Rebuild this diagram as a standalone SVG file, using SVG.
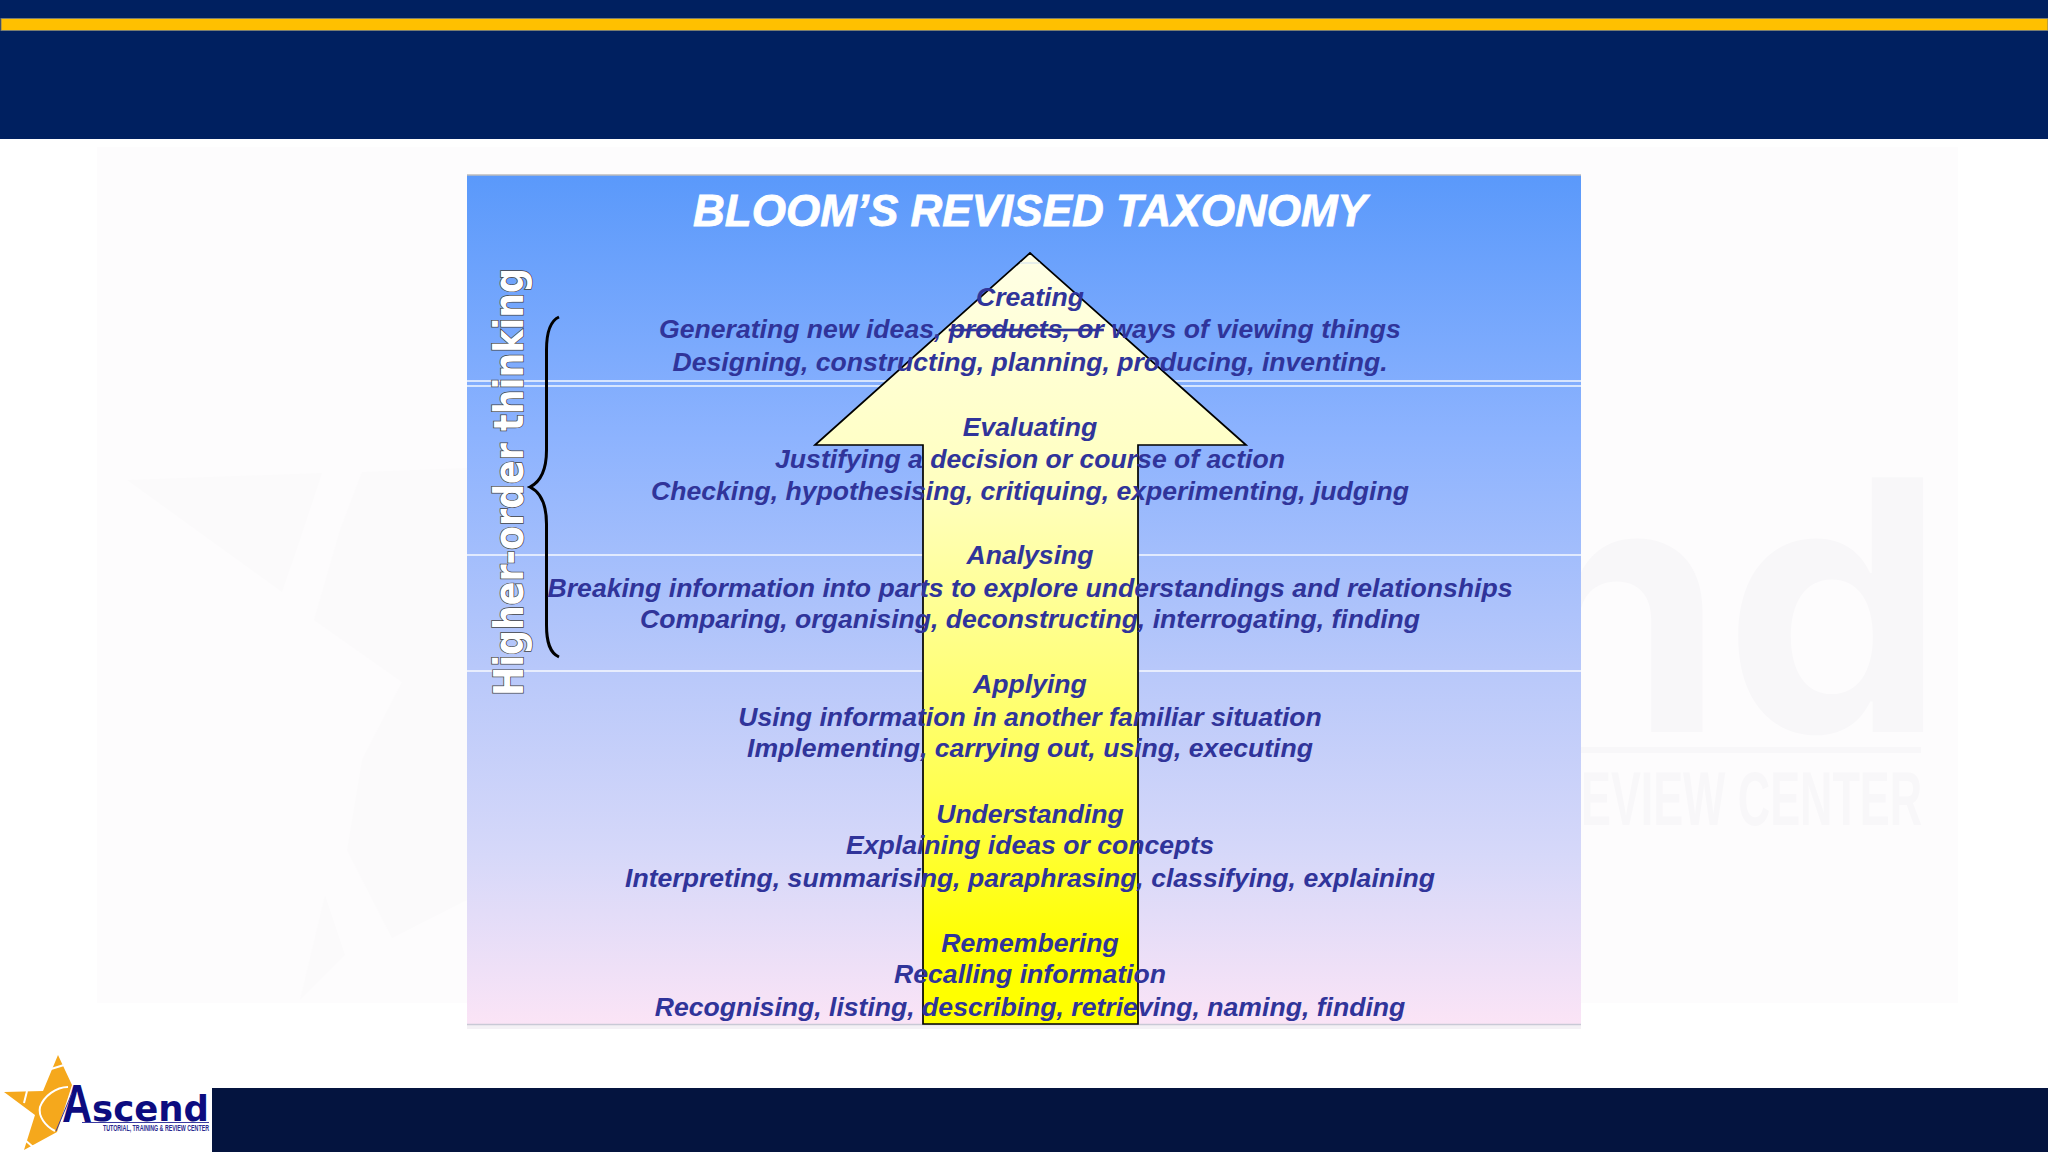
<svg xmlns="http://www.w3.org/2000/svg" width="2048" height="1152" viewBox="0 0 2048 1152">
<style>
.t{font-family:"Liberation Sans",Arial,sans-serif;font-weight:700;font-style:italic;font-size:26.600px;fill:#30349a;text-anchor:middle}
.wl{stroke:#fff;stroke-width:1.6;opacity:.9}
.wm{fill:#f8f7f9}
.ws{fill:#fbfafb}
</style>
<defs>
<linearGradient id="pg" x1="0" y1="0" x2="0" y2="1">
<stop offset="0" stop-color="#5a99fb"/>
<stop offset=".31" stop-color="#8db3fe"/>
<stop offset=".58" stop-color="#b8c8fa"/>
<stop offset=".8" stop-color="#d6d8f9"/>
<stop offset="1" stop-color="#fbe4f6"/>
</linearGradient>
<linearGradient id="ag" x1="0" y1="0" x2="0" y2="1">
<stop offset="0" stop-color="#ffffe6"/>
<stop offset=".3" stop-color="#ffffc0"/>
<stop offset=".7" stop-color="#ffff50"/>
<stop offset=".9" stop-color="#ffff00"/>
<stop offset="1" stop-color="#ffff00"/>
</linearGradient>
</defs>
<rect width="2048" height="1152" fill="#fff"/>
<g id="watermark">
<rect x="97" y="147" width="1861" height="856" fill="#fdfcfd"/>
<polygon class="ws" points="127,480 322,473 300,540 282,592"/>
<polygon class="ws" points="362,472 467,468 467,900 392,938 347,850 362,760 402,682 314,620 340,530"/>
<polygon class="ws" points="325,895 345,955 300,1000"/>
<text x="1945" y="732" text-anchor="end" font-family="Inter,sans-serif" font-weight="700" font-size="350" class="wm">nd</text>
<rect class="wm" x="1581" y="747" width="340" height="6"/>
<text x="1581" y="825" font-family="'Liberation Sans',sans-serif" font-weight="700" font-size="76" textLength="341" lengthAdjust="spacingAndGlyphs" class="wm">EVIEW CENTER</text>
</g>
<g id="header">
<rect width="2048" height="139" fill="#002060"/>
<rect x="1" y="18.500" width="2047" height="12" fill="#ffc000" stroke="#7a7d70" stroke-width="1"/>
</g>
<g id="footer">
<rect x="212" y="1088" width="1836" height="64" fill="#04143f"/>
</g>
<g id="logo">
<path d="M58,1055 L72,1085 L57,1132 L24,1150 L35,1115 L4,1092 L43,1091 Z" fill="#f5a81c"/>
<path d="M51,1069 L64,1065 M68,1087 C56,1087 44,1096 40,1107 C38,1116 45,1126 55,1131 M27,1091 L24,1103 M25,1140 L33,1147" fill="none" stroke="#fff" stroke-width="2"/>
<text x="62" y="1122" font-family="'Liberation Sans',sans-serif" font-weight="700" font-size="54" fill="#0c0c80" textLength="30" lengthAdjust="spacingAndGlyphs">A</text>
<text x="92" y="1121" font-family="'DejaVu Sans',sans-serif" font-weight="700" font-size="36" fill="#0c0c80" textLength="117" lengthAdjust="spacingAndGlyphs">scend</text>
<path d="M82,1122.500 H209" stroke="#3a3aa0" stroke-width="1"/>
<path d="M56,1131 L72,1093" stroke="#3a3aa0" stroke-width="1"/>
<text x="103" y="1131" font-family="'Liberation Sans',sans-serif" font-weight="700" font-size="8.500" fill="#2a2a90" textLength="106" lengthAdjust="spacingAndGlyphs">TUTORIAL, TRAINING &amp; REVIEW CENTER</text>
</g>
<g id="panel">
<rect x="467" y="175" width="1114" height="850" fill="url(#pg)"/>
<rect x="467" y="1025" width="1114" height="4" fill="#f4f1f5"/>
<path d="M467,175 H1581" stroke="#bdbdbd" stroke-width="1.500"/>
<path d="M467,1024.500 H1581" stroke="#c9c9d6" stroke-width="1.500"/>
<path class="wl" d="M467,381 H1581 M467,386 H1581 M467,555 H1581 M467,671 H1581"/>
<text id="title" x="1030" y="226" font-family="'Liberation Sans',Arial,sans-serif" font-weight="700" font-style="italic" font-size="44" fill="#fff" stroke="#fff" stroke-width=".8" text-anchor="middle">BLOOM’S REVISED TAXONOMY</text>
</g>
<g id="arrow">
<polygon points="1030,253 1246,445 1138,445 1138,1024 923,1024 923,445 815,445" fill="url(#ag)" stroke="#000" stroke-width="1.700"/>
<path d="M1020,263 H1040" stroke="#cfe0f0" stroke-width="1"/>
</g>
<g id="higher-order">
<text transform="translate(523,696) rotate(-90)" font-family="'DejaVu Sans',sans-serif" font-weight="700" font-size="40" fill="#fff" stroke="#444" stroke-width="1.500" paint-order="stroke" textLength="428" lengthAdjust="spacingAndGlyphs">Higher-order thinking</text>
</g>
<g id="connectors">
<path id="brace" d="M559,317 C550,321 546.500,332 546.500,350 V450 C546.500,472 540,482 530,487 C540,492 546.500,502 546.500,524 V625 C546.500,643 550,653 559,657" fill="none" stroke="#000" stroke-width="3"/>
</g>
<g id="creating">
<text class="t" x="1030" y="306">Creating</text>
<text class="t" x="1030" y="338">Generating new ideas, <tspan text-decoration="line-through">products, or</tspan> ways of viewing things</text>
<text class="t" x="1030" y="371">Designing, constructing, planning, producing, inventing.</text>
</g>
<g id="evaluating">
<text class="t" x="1030" y="436">Evaluating</text>
<text class="t" x="1030" y="468">Justifying a decision or course of action</text>
<text class="t" x="1030" y="500">Checking, hypothesising, critiquing, experimenting, judging</text>
</g>
<g id="analysing">
<text class="t" x="1030" y="564">Analysing</text>
<text class="t" x="1030" y="597">Breaking information into parts to explore understandings and relationships</text>
<text class="t" x="1030" y="628">Comparing, organising, deconstructing, interrogating, finding</text>
</g>
<g id="applying">
<text class="t" x="1030" y="693">Applying</text>
<text class="t" x="1030" y="726">Using information in another familiar situation</text>
<text class="t" x="1030" y="757">Implementing, carrying out, using, executing</text>
</g>
<g id="understanding">
<text class="t" x="1030" y="823">Understanding</text>
<text class="t" x="1030" y="854">Explaining ideas or concepts</text>
<text class="t" x="1030" y="887">Interpreting, summarising, paraphrasing, classifying, explaining</text>
</g>
<g id="remembering">
<text class="t" x="1030" y="952">Remembering</text>
<text class="t" x="1030" y="983">Recalling information</text>
<text class="t" x="1030" y="1016">Recognising, listing, describing, retrieving, naming, finding</text>
</g>
</svg>
